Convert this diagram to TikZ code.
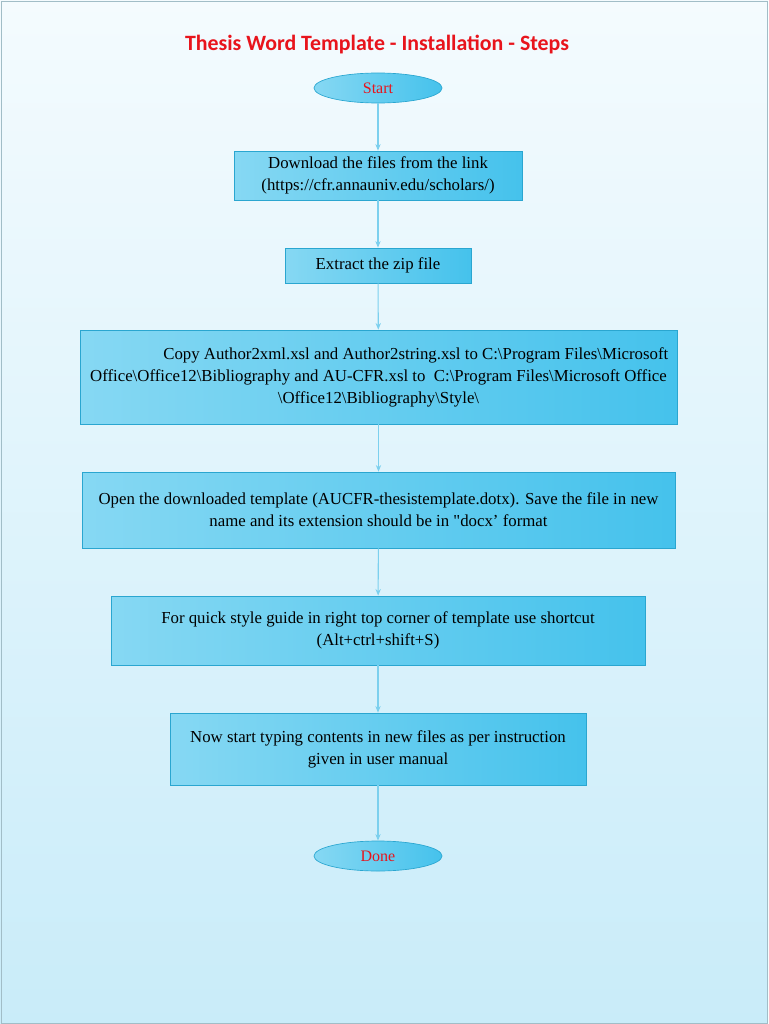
\documentclass[tikz,border=0pt]{standalone}
\usepackage{fontspec}
\setmainfont{Liberation Serif}
\newfontfamily\titlefont{Carlito}
\usetikzlibrary{shapes.geometric,arrows.meta}
\definecolor{bgtop}{HTML}{F4FBFE}
\definecolor{bgbot}{HTML}{C9ECF9}
\definecolor{boxl}{HTML}{86D8F3}
\definecolor{boxr}{HTML}{45C2EC}
\definecolor{edge}{HTML}{2AA6D0}
\definecolor{arr}{HTML}{7CD0EE}
\definecolor{ttl}{HTML}{E8141C}
\tikzset{
 stepbox/.style={draw=edge,line width=0.5pt,left color=boxl,right color=boxr,shading angle=90,align=center,font=\fontsize{12.6}{16.5}\selectfont,inner sep=0pt},
 term/.style={ellipse,draw=edge,line width=0.5pt,left color=boxl,right color=boxr,minimum width=96pt,minimum height=22.5pt,inner sep=0pt,text=ttl,font=\fontsize{12}{13}\selectfont},
 flow/.style={draw=arr,line width=0.8pt,-{Stealth[length=5pt,width=4pt]}}
}
\begin{document}
\begin{tikzpicture}[x=0.75pt,y=-0.75pt]
\shade[top color=bgtop,bottom color=bgbot] (0,0) rectangle (768,1024);
\draw[draw=bgbot!80!black,line width=0.4pt] (1,1) rectangle (767,1023);
\useasboundingbox (0,0) rectangle (768,1024);
\node (title) at (377,45) {\titlefont\bfseries\fontsize{16.4}{18}\selectfont\color{ttl}Thesis Word Template - Installation - Steps};
\node[term] (start) at (378,88) {Start};
\node[stepbox,minimum width=216pt,minimum height=36.75pt] (b1) at (378,175.5) {Download the files from the link\\(https://cfr.annauniv.edu/scholars/)};
\node[stepbox,minimum width=139.5pt,minimum height=26.25pt] (b2) at (378,265.5) {Extract the zip file};
\node[stepbox,minimum width=447.75pt,minimum height=70.5pt] (b3) at (378.5,377) {\hspace*{56pt}Copy Author2xml.xsl and Author2string.xsl to C:\textbackslash Program Files\textbackslash Microsoft\\Office\textbackslash Office12\textbackslash Bibliography and AU-CFR.xsl to \ C:\textbackslash Program Files\textbackslash Microsoft Office\\\textbackslash Office12\textbackslash Bibliography\textbackslash Style\textbackslash};
\node[stepbox,minimum width=444.75pt,minimum height=57pt] (b4) at (378.5,510) {Open the downloaded template (AUCFR-thesistemplate.dotx). Save the file in new\\name and its extension should be in \textquotedbl docx' format};
\node[stepbox,minimum width=400.5pt,minimum height=51.75pt] (b5) at (378,630.5) {For quick style guide in right top corner of template use shortcut\\(Alt+ctrl+shift+S)};
\node[stepbox,minimum width=312pt,minimum height=54pt] (b6) at (378,749) {Now start typing contents in new files as per instruction\\given in user manual};
\node[term] (done) at (378,856) {Done};
\draw[flow] (start) -- (b1);
\draw[flow] (b1) -- (b2);
\draw[flow] (b2) -- (b3);
\draw[flow] (b3) -- (b4);
\draw[flow] (b4) -- (b5);
\draw[flow] (b5) -- (b6);
\draw[flow] (b6) -- (done);
\end{tikzpicture}
\end{document}
